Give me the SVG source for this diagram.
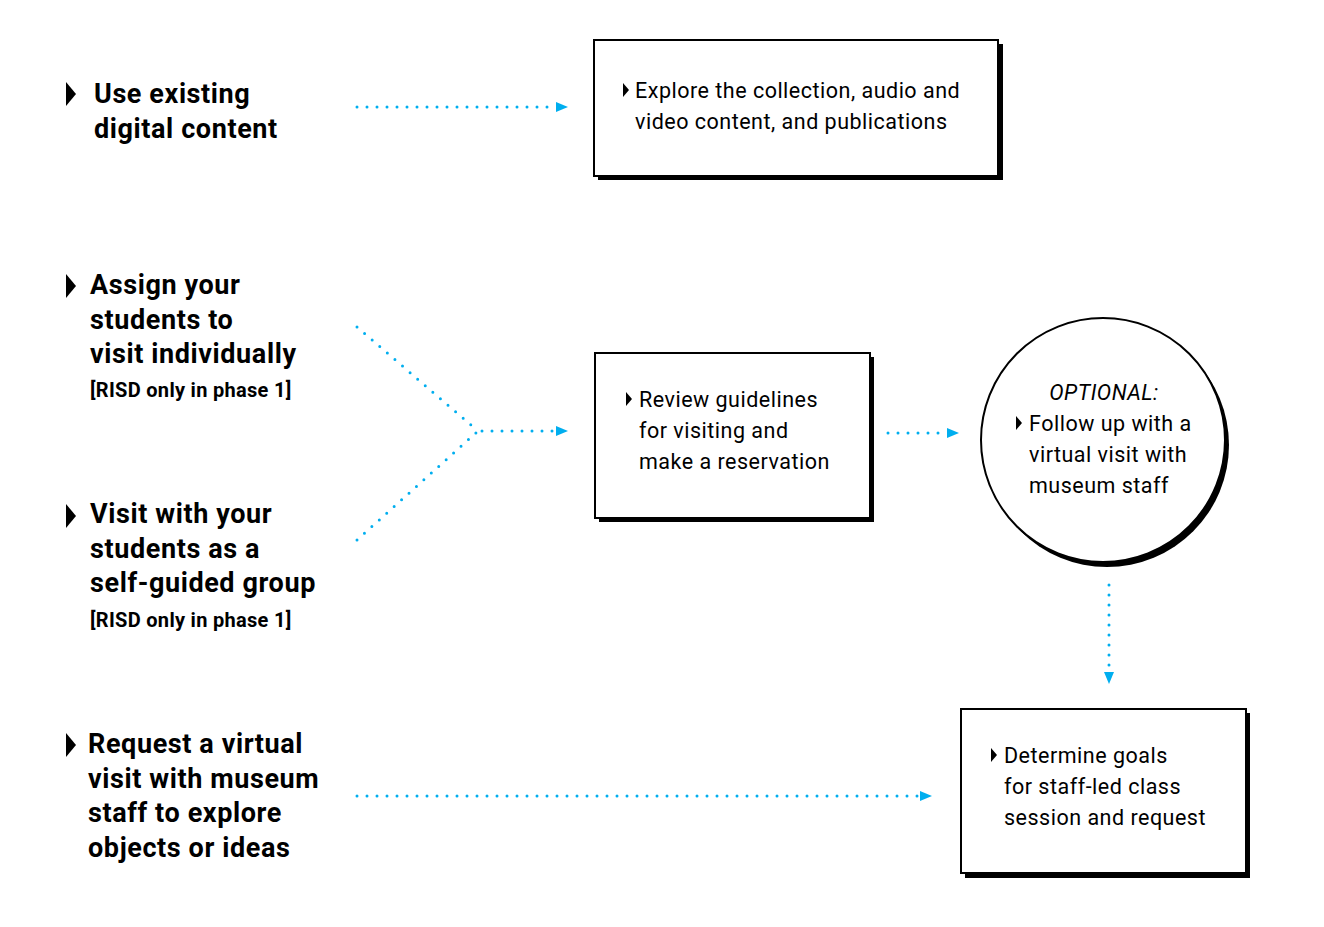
<svg xmlns="http://www.w3.org/2000/svg" width="1324" height="927" viewBox="0 0 1324 927">
<defs>
<style>
.lbl{font-family:Roboto,"Liberation Sans",sans-serif;font-weight:bold;font-size:27px;letter-spacing:0.6px;fill:#000}
.sm{font-family:Roboto,"Liberation Sans",sans-serif;font-weight:bold;font-size:20px;letter-spacing:0.3px;fill:#000}
.bx{font-family:Roboto,"Liberation Sans",sans-serif;font-size:21.5px;letter-spacing:0.5px;fill:#000}
.box{fill:#fff;stroke:#000;stroke-width:2}
.sh{fill:#000}
.dot{fill:none;stroke:#00aeef;stroke-width:3;stroke-linecap:round;stroke-dasharray:0 10}
</style>
<marker id="ah" viewBox="0 0 12 10" refX="0" refY="5" markerWidth="12" markerHeight="10" markerUnits="userSpaceOnUse" orient="auto"><path d="M0,0L12,5L0,10z" fill="#00aeef"/></marker>
<path id="tri" d="M0,-12L10,0L0,12z"/>
<path id="tris" d="M0,-7L6,0L0,7z"/>
</defs>
<g id="left-labels">
<use href="#tri" x="66" y="94"/>
<text class="lbl"><tspan x="94" y="103">Use existing</tspan><tspan x="94" y="138">digital content</tspan></text>
<use href="#tri" x="66" y="286"/>
<text class="lbl"><tspan x="90" y="294">Assign your</tspan><tspan x="90" y="329">students to</tspan><tspan x="90" y="363">visit individually</tspan></text>
<text class="sm" x="90" y="397">[RISD only in phase 1]</text>
<use href="#tri" x="66" y="516"/>
<text class="lbl"><tspan x="90" y="523">Visit with your</tspan><tspan x="90" y="558">students as a</tspan><tspan x="90" y="592">self-guided group</tspan></text>
<text class="sm" x="90" y="627">[RISD only in phase 1]</text>
<use href="#tri" x="66" y="745"/>
<text class="lbl"><tspan x="88" y="753">Request a virtual</tspan><tspan x="88" y="788">visit with museum</tspan><tspan x="88" y="822">staff to explore</tspan><tspan x="88" y="857">objects or ideas</tspan></text>
</g>
<g id="box1">
<rect class="sh" x="598" y="44" width="405" height="136"/>
<rect class="box" x="594" y="40" width="404" height="136"/>
<use href="#tris" x="623" y="90"/>
<text class="bx"><tspan x="635" y="98">Explore the collection, audio and</tspan><tspan x="635" y="129">video content, and publications</tspan></text>
</g>
<g id="box2">
<rect class="sh" x="599" y="357" width="275" height="165"/>
<rect class="box" x="595" y="353" width="275" height="165"/>
<use href="#tris" x="626" y="399"/>
<text class="bx"><tspan x="639" y="407">Review guidelines</tspan><tspan x="639" y="438">for visiting and</tspan><tspan x="639" y="469">make a reservation</tspan></text>
</g>
<g id="circle">
<circle class="sh" cx="1107" cy="445" r="122"/>
<circle class="box" cx="1103" cy="440" r="122"/>
<text class="bx" x="1104" y="400" text-anchor="middle" font-style="italic">OPTIONAL:</text>
<use href="#tris" x="1016" y="423"/>
<text class="bx"><tspan x="1029" y="431">Follow up with a</tspan><tspan x="1029" y="462">virtual visit with</tspan><tspan x="1029" y="493">museum staff</tspan></text>
</g>
<g id="box3">
<rect class="sh" x="965" y="713" width="285" height="165"/>
<rect class="box" x="961" y="709" width="285" height="164"/>
<use href="#tris" x="991" y="755"/>
<text class="bx"><tspan x="1004" y="763">Determine goals</tspan><tspan x="1004" y="794">for staff-led class</tspan><tspan x="1004" y="825">session and request</tspan></text>
</g>
<g id="connectors">
<path class="dot" d="M357,107H556" marker-end="url(#ah)"/>
<path class="dot" d="M357,327L478,431"/>
<path class="dot" d="M357,540L478,431"/>
<path class="dot" d="M482,431H556" marker-end="url(#ah)"/>
<path class="dot" d="M888,433H947" marker-end="url(#ah)"/>
<path class="dot" d="M1109,585V672" marker-end="url(#ah)"/>
<path class="dot" d="M357,796H920" marker-end="url(#ah)"/>
</g>
</svg>
